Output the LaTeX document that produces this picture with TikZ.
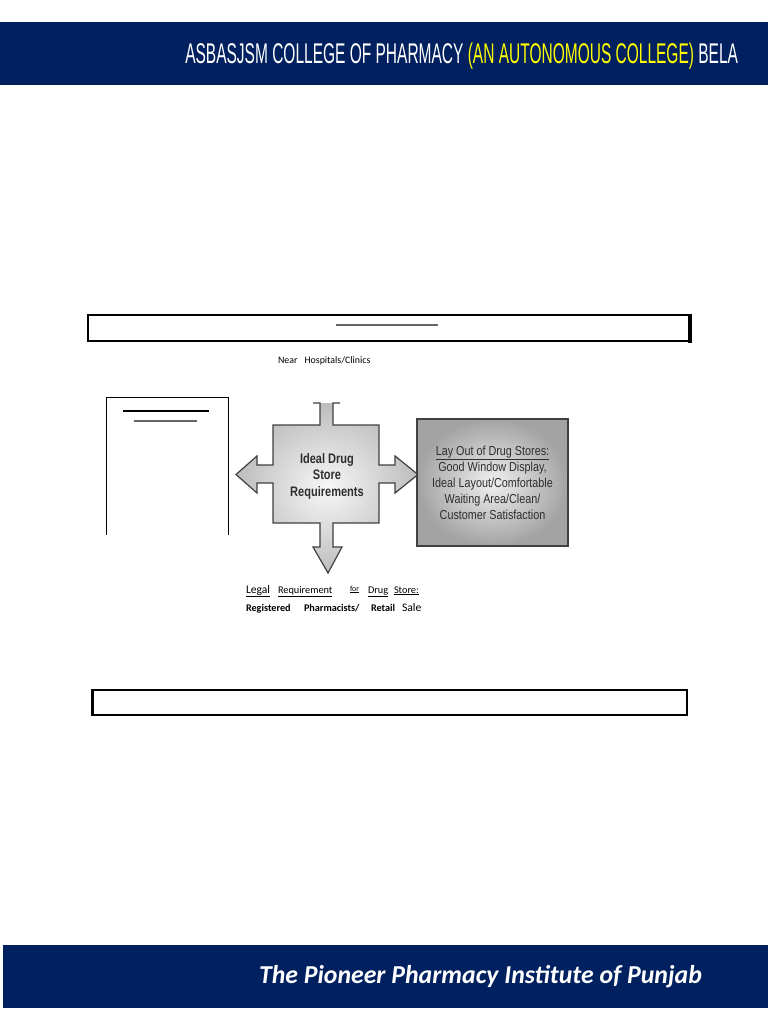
\documentclass[tikz,border=0pt]{standalone}
\usepackage{graphicx}
\usepackage{fontspec}
\setmainfont{Carlito}
\newfontfamily\headfont[FakeStretch=0.555]{Liberation Sans}
\newfontfamily\narrowfont[FakeStretch=0.83]{Liberation Sans}
\newfontfamily\crossfont[FakeStretch=0.8]{Liberation Sans}
\definecolor{navy}{HTML}{002060}
\definecolor{hdyellow}{HTML}{FFFF00}
\definecolor{edgegray}{HTML}{404040}
\tikzset{
  band/.style={fill=navy},
  txt/.style={inner sep=0pt, outer sep=0pt},
  small/.style={txt, anchor=base west, font=\fontsize{10.3}{12}\selectfont},
  smallbold/.style={txt, anchor=base west, font=\bfseries\fontsize{10.2}{12}\selectfont},
  big/.style={txt, anchor=base west, font=\fontsize{11.6}{13}\selectfont},
  framebox/.style={draw=black, line width=1.6pt},
  crossline/.style={draw=edgegray, line width=1.2pt, line join=miter},
  rbox/.style={draw=edgegray, line width=1.3pt, inner color=black!6, outer color=black!36,
     minimum width=151pt, minimum height=127pt, align=center, text=black!82,
     font=\narrowfont\fontsize{13}{16}\selectfont, inner sep=0pt},
}
\begin{document}
\begin{tikzpicture}[x=1pt,y=-1pt]
\useasboundingbox (0,0) rectangle (768,1024);
\fill[white] (0,0) rectangle (768,1024);
% header
\fill[band] (0,22) rectangle (768,85);
\node[txt, anchor=east, text=white, font=\headfont\fontsize{28.5}{30}\selectfont] (head) at (738,56)
  {\scalebox{0.98}[1]{ASBASJSM COLLEGE OF PHARMACY \textcolor{hdyellow}{(AN AUTONOMOUS COLLEGE)} BELA}};
% footer
\fill[band] (3,945) rectangle (768,1008);
\node[txt, anchor=east, text=white, font=\bfseries\itshape\fontsize{25.8}{28}\selectfont] (foot) at (702,977)
  {The Pioneer Pharmacy Institute of Punjab};
% box 1
\draw[framebox] (88,315) rectangle (690,341);
\draw[line width=3.2pt] (690,313.5) -- (690,342.5);
\draw[draw=black!60, line width=1.6pt] (336,325) -- (438,325);
\node[small, font=\fontsize{9.9}{11}\selectfont] (near) at (278,363) {Near\hspace{7pt}Hospitals/Clinics};
% left box
\draw[line width=0.9pt] (106,535) -- (106,397) -- (228,397) -- (228,535);
\draw[line width=1.1pt] (123,411) -- (209,411);
\draw[draw=black!60, line width=1.4pt] (134,421) -- (197,421);
% cross shape
\shade[inner color=black!3, outer color=black!26]
  (320,403) -- (320,425) -- (273,425) -- (273,465) -- (257,465) -- (257,456) -- (236,474.5)
  -- (257,493) -- (257,483) -- (273,483) -- (273,523) -- (320,523) -- (320,547) -- (313,547)
  -- (328,573) -- (342,547) -- (333,547) -- (333,523) -- (379,523) -- (379,483) -- (395,483)
  -- (395,493) -- (418,474.5) -- (395,456) -- (395,465) -- (379,465) -- (379,425) -- (333,425)
  -- (333,403) -- cycle;
\draw[crossline]
  (313,403) -- (320,403) -- (320,425) -- (273,425) -- (273,465) -- (257,465) -- (257,456) -- (236,474.5)
  -- (257,493) -- (257,483) -- (273,483) -- (273,523) -- (320,523) -- (320,547) -- (313,547)
  -- (328,573) -- (342,547) -- (333,547) -- (333,523) -- (379,523) -- (379,483) -- (395,483)
  -- (395,493) -- (418,474.5) -- (395,456) -- (395,465) -- (379,465) -- (379,425) -- (333,425)
  -- (333,403) -- (340,403);
\node[txt, align=center, text=black!82, font=\crossfont\bfseries\fontsize{13.8}{16.5}\selectfont] (ideal) at (327,476)
  {Ideal Drug\\Store\\Requirements};
% right box
\node[rbox] (layout) at (492.5,482.5)
  {\underline{Lay Out of Drug Stores:}\\Good Window Display,\\Ideal Layout/Comfortable\\Waiting Area/Clean/\\Customer Satisfaction};
% bottom text
\node[big] (legal) at (246,593) {\underline{Legal}};
\node[small] (req) at (278,593) {\underline{Requirement}};
\node[small, font=\fontsize{7.8}{9}\selectfont] (for) at (350,591) {\underline{for}};
\node[small] (drug) at (368,593) {\underline{Drug}};
\node[small] (store) at (394,593) {\underline{Store:}};
\node[smallbold] (reg) at (246,611) {Registered};
\node[smallbold] (pharm) at (304,611) {Pharmacists/};
\node[smallbold] (retail) at (371,611) {Retail};
\node[big] (sale) at (402,611) {Sale};
% box 2
\draw[framebox, line width=1.4pt] (92,690) rectangle (687,715);
\draw[line width=3pt] (92,689) -- (92,716);
\end{tikzpicture}
\end{document}
